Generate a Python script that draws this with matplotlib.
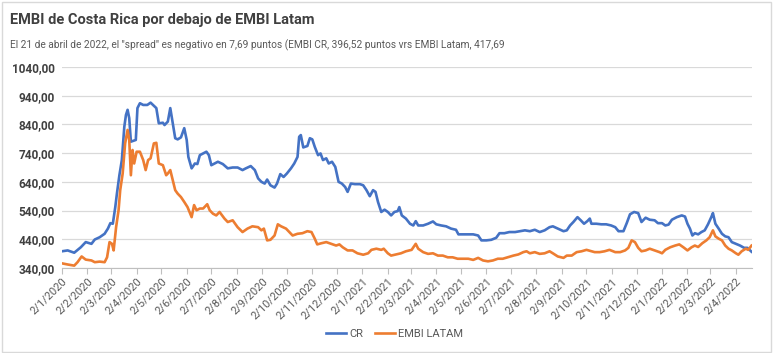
import pandas as pd
import matplotlib
matplotlib.use("Agg")
import matplotlib.pyplot as plt
from matplotlib.patches import Rectangle
from matplotlib.ticker import FuncFormatter

plt.rcParams['font.family'] = ['Roboto', 'DejaVu Sans']

title = "EMBI de Costa Rica por debajo de EMBI Latam"
subtitle = ('El 21 de abril de 2022, el "spread" es negativo en 7,69 puntos '
            '(EMBI CR, 396,52 puntos vrs EMBI Latam, 417,69')

cr_dates = [
    "2020-01-02", "2020-01-09", "2020-01-17", "2020-01-25", "2020-01-31", "2020-02-07",
    "2020-02-11", "2020-02-17", "2020-02-23", "2020-02-27", "2020-03-01", "2020-03-04",
    "2020-03-07", "2020-03-09", "2020-03-12", "2020-03-15", "2020-03-18", "2020-03-20",
    "2020-03-22", "2020-03-24", "2020-03-26", "2020-04-01", "2020-04-03", "2020-04-06",
    "2020-04-10", "2020-04-15", "2020-04-19", "2020-04-23", "2020-04-26", "2020-04-29",
    "2020-05-04", "2020-05-06", "2020-05-10", "2020-05-13", "2020-05-16", "2020-05-19",
    "2020-05-22", "2020-05-26", "2020-05-30", "2020-06-02", "2020-06-04", "2020-06-08",
    "2020-06-12", "2020-06-15", "2020-06-18", "2020-06-22", "2020-06-26", "2020-06-29",
    "2020-07-02", "2020-07-06", "2020-07-10", "2020-07-16", "2020-07-22", "2020-07-28",
    "2020-08-03", "2020-08-09", "2020-08-13", "2020-08-19", "2020-08-24", "2020-08-28",
    "2020-09-01", "2020-09-05", "2020-09-08", "2020-09-12", "2020-09-17", "2020-09-20",
    "2020-09-24", "2020-09-28", "2020-10-02", "2020-10-07", "2020-10-11", "2020-10-15",
    "2020-10-17", "2020-10-19", "2020-10-22", "2020-10-27", "2020-10-30", "2020-11-02",
    "2020-11-05", "2020-11-09", "2020-11-12", "2020-11-15", "2020-11-19", "2020-11-22",
    "2020-11-26", "2020-11-30", "2020-12-04", "2020-12-08", "2020-12-12", "2020-12-15",
    "2020-12-19", "2020-12-24", "2020-12-30", "2021-01-03", "2021-01-07", "2021-01-11",
    "2021-01-15", "2021-01-18", "2021-01-21", "2021-01-25", "2021-01-29", "2021-02-02",
    "2021-02-06", "2021-02-10", "2021-02-14", "2021-02-16", "2021-02-19", "2021-02-24",
    "2021-03-01", "2021-03-05", "2021-03-08", "2021-03-11", "2021-03-17", "2021-03-23",
    "2021-03-29", "2021-04-02", "2021-04-08", "2021-04-14", "2021-04-20", "2021-04-26",
    "2021-04-29", "2021-05-05", "2021-05-11", "2021-05-17", "2021-05-23", "2021-05-27",
    "2021-06-02", "2021-06-08", "2021-06-14", "2021-06-18", "2021-06-24", "2021-06-30",
    "2021-07-07", "2021-07-13", "2021-07-19", "2021-07-25", "2021-07-31", "2021-08-06",
    "2021-08-12", "2021-08-18", "2021-08-22", "2021-08-28", "2021-09-04", "2021-09-08",
    "2021-09-12", "2021-09-16", "2021-09-21", "2021-09-25", "2021-09-29", "2021-10-03",
    "2021-10-06", "2021-10-08", "2021-10-14", "2021-10-20", "2021-10-26", "2021-11-01",
    "2021-11-06", "2021-11-10", "2021-11-16", "2021-11-20", "2021-11-24", "2021-11-29",
    "2021-12-04", "2021-12-08", "2021-12-13", "2021-12-18", "2021-12-24", "2021-12-28",
    "2022-01-02", "2022-01-06", "2022-01-10", "2022-01-14", "2022-01-20", "2022-01-26",
    "2022-01-30", "2022-02-02", "2022-02-05", "2022-02-08", "2022-02-11", "2022-02-15",
    "2022-02-19", "2022-02-23", "2022-02-27", "2022-03-03", "2022-03-05", "2022-03-08",
    "2022-03-12", "2022-03-16", "2022-03-20", "2022-03-24", "2022-03-28", "2022-04-02",
    "2022-04-07", "2022-04-12", "2022-04-16", "2022-04-21",
]
cr_values = [
    398, 401, 393, 412, 430, 424, 439, 447, 459, 477, 496, 494,
    552, 599, 663, 716, 832, 873, 891, 862, 780, 786, 897, 914,
    908, 908, 916, 905, 897, 844, 846, 838, 850, 897, 844, 792,
    788, 795, 827, 786, 727, 687, 704, 702, 733, 739, 745, 733,
    698, 704, 710, 702, 687, 690, 690, 681, 687, 695, 681, 652,
    640, 634, 648, 628, 620, 634, 667, 657, 669, 687, 704, 727,
    797, 803, 760, 765, 792, 788, 762, 733, 739, 716, 722, 704,
    710, 692, 640, 634, 622, 605, 634, 632, 632, 628, 611, 590,
    611, 605, 570, 535, 543, 535, 523, 535, 538, 552, 523, 512,
    494, 488, 503, 488, 488, 494, 502, 492, 488, 485, 477, 473,
    457, 457, 457, 457, 453, 436, 436, 438, 445, 461, 461, 465,
    465, 468, 471, 468, 473, 465, 471, 482, 485, 477, 468, 471,
    488, 500, 517, 506, 494, 503, 512, 494, 494, 492, 492, 488,
    482, 468, 468, 496, 527, 535, 531, 500, 515, 508, 506, 496,
    496, 488, 491, 508, 517, 523, 519, 494, 477, 453, 461, 457,
    465, 471, 492, 517, 531, 494, 477, 459, 450, 447, 430, 424,
    418, 410, 410, 396.52,
]

latam_dates = [
    "2020-01-02", "2020-01-09", "2020-01-17", "2020-01-21", "2020-01-26", "2020-01-31",
    "2020-02-07", "2020-02-11", "2020-02-17", "2020-02-23", "2020-02-26", "2020-02-29",
    "2020-03-03", "2020-03-05", "2020-03-08", "2020-03-11", "2020-03-13", "2020-03-16",
    "2020-03-19", "2020-03-22", "2020-03-24", "2020-03-26", "2020-03-28", "2020-03-30",
    "2020-04-02", "2020-04-06", "2020-04-10", "2020-04-13", "2020-04-16", "2020-04-19",
    "2020-04-23", "2020-04-26", "2020-04-29", "2020-05-04", "2020-05-08", "2020-05-10",
    "2020-05-13", "2020-05-16", "2020-05-19", "2020-05-22", "2020-05-26", "2020-05-30",
    "2020-06-03", "2020-06-08", "2020-06-11", "2020-06-14", "2020-06-18", "2020-06-22",
    "2020-06-27", "2020-06-30", "2020-07-04", "2020-07-08", "2020-07-12", "2020-07-18",
    "2020-07-22", "2020-07-28", "2020-08-03", "2020-08-09", "2020-08-15", "2020-08-21",
    "2020-08-28", "2020-09-01", "2020-09-04", "2020-09-08", "2020-09-12", "2020-09-17",
    "2020-09-21", "2020-09-25", "2020-10-01", "2020-10-05", "2020-10-09", "2020-10-15",
    "2020-10-21", "2020-10-27", "2020-11-01", "2020-11-05", "2020-11-08", "2020-11-13",
    "2020-11-19", "2020-11-25", "2020-12-01", "2020-12-05", "2020-12-09", "2020-12-15",
    "2020-12-21", "2020-12-27", "2021-01-03", "2021-01-09", "2021-01-13", "2021-01-19",
    "2021-01-25", "2021-01-28", "2021-02-02", "2021-02-06", "2021-02-12", "2021-02-18",
    "2021-02-24", "2021-03-03", "2021-03-08", "2021-03-11", "2021-03-17", "2021-03-23",
    "2021-03-29", "2021-04-04", "2021-04-10", "2021-04-16", "2021-04-22", "2021-04-28",
    "2021-05-05", "2021-05-11", "2021-05-17", "2021-05-23", "2021-05-29", "2021-06-04",
    "2021-06-10", "2021-06-16", "2021-06-22", "2021-06-28", "2021-07-05", "2021-07-11",
    "2021-07-17", "2021-07-21", "2021-07-25", "2021-07-31", "2021-08-06", "2021-08-12",
    "2021-08-18", "2021-08-22", "2021-08-28", "2021-09-04", "2021-09-08", "2021-09-14",
    "2021-09-20", "2021-09-26", "2021-10-02", "2021-10-08", "2021-10-12", "2021-10-18",
    "2021-10-24", "2021-10-30", "2021-11-06", "2021-11-12", "2021-11-18", "2021-11-22",
    "2021-11-26", "2021-11-30", "2021-12-04", "2021-12-08", "2021-12-13", "2021-12-18",
    "2021-12-24", "2021-12-30", "2022-01-02", "2022-01-06", "2022-01-12", "2022-01-18",
    "2022-01-23", "2022-01-28", "2022-02-02", "2022-02-07", "2022-02-11", "2022-02-15",
    "2022-02-20", "2022-02-25", "2022-03-01", "2022-03-05", "2022-03-08", "2022-03-12",
    "2022-03-16", "2022-03-20", "2022-03-24", "2022-03-28", "2022-04-02", "2022-04-05",
    "2022-04-09", "2022-04-14", "2022-04-17", "2022-04-21",
]
latam_values = [
    356, 352, 348, 360, 380, 369, 366, 360, 362, 360, 377, 430,
    424, 401, 482, 541, 611, 669, 774, 821, 786, 663, 751, 704,
    745, 745, 716, 681, 716, 722, 774, 776, 704, 698, 663, 669,
    681, 646, 611, 599, 587, 570, 552, 517, 559, 541, 547, 547,
    562, 541, 529, 523, 535, 512, 500, 506, 482, 465, 477, 485,
    482, 471, 477, 436, 438, 453, 492, 485, 477, 465, 453, 459,
    461, 468, 465, 442, 422, 426, 430, 424, 418, 422, 412, 401,
    401, 391, 386, 391, 403, 407, 403, 407, 391, 383, 387, 391,
    398, 403, 424, 407, 395, 389, 391, 383, 383, 377, 377, 372,
    372, 372, 368, 375, 366, 363, 366, 372, 372, 377, 383, 387,
    395, 398, 391, 395, 389, 391, 398, 391, 380, 375, 383, 383,
    395, 398, 403, 398, 395, 395, 398, 403, 395, 395, 401, 410,
    436, 430, 410, 398, 401, 407, 401, 395, 391, 403, 412, 418,
    422, 412, 401, 412, 418, 413, 426, 436, 447, 471, 450, 442,
    436, 418, 407, 401, 391, 386, 398, 407, 403, 417.69,
]

y_ticks = [340, 440, 540, 640, 740, 840, 940, 1040]
month_ticks = pd.date_range("2020-01-01", "2022-04-01", freq="MS") + pd.Timedelta(days=1)

cr = pd.Series(cr_values, index=pd.to_datetime(cr_dates))
latam = pd.Series(latam_values, index=pd.to_datetime(latam_dates))

blue = "#4472C4"
orange = "#ED7D31"
grey_text = "#595959"

fig = plt.figure(figsize=(7.74, 3.53), dpi=100)
ax = fig.add_axes([0.080, 0.241, 0.892, 0.569])

ax.plot(cr.index, cr.values, color=blue, lw=1.9, label="CR", solid_joinstyle="round")
ax.plot(latam.index, latam.values, color=orange, lw=1.9, label="EMBI LATAM",
        solid_joinstyle="round")

ax.set_ylim(340, 1040)
ax.set_yticks(y_ticks)
ax.yaxis.set_major_formatter(FuncFormatter(lambda v, p: f"{v:.2f}".replace(".", ",")))
ax.set_xlim(pd.Timestamp("2020-01-02"), pd.Timestamp("2022-04-22"))
ax.set_xticks(month_ticks)
ax.set_xticklabels([f"{d.day}/{d.month}/{d.year}" for d in month_ticks],
                   rotation=45, ha="right", rotation_mode="anchor",
                   fontsize=8, color=grey_text)

ax.grid(axis="y", color="#d9d9d9", lw=0.9)
ax.set_axisbelow(True)
for s in ["left", "right", "top"]:
    ax.spines[s].set_visible(False)
ax.spines["bottom"].set_color("#bfbfbf")
ax.tick_params(axis="y", length=0, pad=5, labelsize=8.5, labelcolor="#404040")
ax.tick_params(axis="x", length=4, color="#bfbfbf", pad=2)
for lbl in ax.get_yticklabels():
    lbl.set_fontweight("bold")

fig.text(0.013, 0.942, title, fontsize=10.5, fontweight="bold", color="#404040",
         va="center", ha="left")
fig.text(0.013, 0.873, subtitle, fontsize=7.3, color=grey_text, va="center", ha="left")

fig.legend(loc="center", bbox_to_anchor=(0.51, 0.055), ncol=2, frameon=False,
           fontsize=8, labelcolor=grey_text, handlelength=1.8, columnspacing=1.0,
           handletextpad=0.3)

fig.patches.append(Rectangle((0.002, 0.004), 0.994, 0.99, transform=fig.transFigure,
                             fill=False, edgecolor="#d9d9d9", lw=1))

fig.savefig("out.png", dpi=100)
